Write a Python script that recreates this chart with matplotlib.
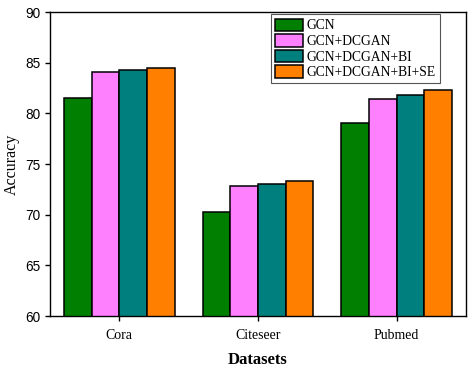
import matplotlib
matplotlib.use("Agg")
import matplotlib.pyplot as plt
import numpy as np

datasets = ["Cora", "Citeseer", "Pubmed"]
methods = ["GCN", "GCN+DCGAN", "GCN+DCGAN+BI", "GCN+DCGAN+BI+SE"]
gcn = [81.5, 70.3, 79.0]
gcn_dcgan = [84.1, 72.8, 81.4]
gcn_dcgan_bi = [84.3, 73.0, 81.8]
gcn_dcgan_bi_se = [84.5, 73.3, 82.3]
colors = ["#007F00", "#FF80FF", "#007F7F", "#FF8000"]
yticks = [60, 65, 70, 75, 80, 85, 90]

series = [gcn, gcn_dcgan, gcn_dcgan_bi, gcn_dcgan_bi_se]

fig = plt.figure(figsize=(4.74, 3.70), dpi=100)
ax = fig.add_axes([50/474, 1-316/370, (466-50)/474, (316-12)/370])

x = np.arange(len(datasets))
w = 0.2
for i, (vals, c, lab) in enumerate(zip(series, colors, methods)):
    ax.bar(x + (i - 1.5) * w, vals, width=w, color=c, edgecolor="black",
           linewidth=1.1, label=lab)

ax.set_xlim(-0.5, 2.5)
ax.set_ylim(60, 90)
ax.set_yticks(yticks)
ax.set_xticks(x)
ax.set_xticklabels(datasets, fontfamily="Liberation Serif", fontsize=10)
for t in ax.get_yticklabels():
    t.set_fontfamily("Liberation Sans")
    t.set_fontsize(9.8)
ax.tick_params(axis="both", direction="out", length=3.5, width=1)
ax.tick_params(axis="x", pad=6)
for s in ax.spines.values():
    s.set_linewidth(1.0)

ax.set_ylabel("Accuracy", fontfamily="Liberation Serif", fontsize=11.5, labelpad=4)
ax.set_xlabel("Datasets", fontfamily="Liberation Serif", fontsize=12,
              fontweight="bold", labelpad=7)

leg = ax.legend(loc="upper right", bbox_to_anchor=(0.9375, 0.992),
                prop={"family": "Liberation Serif", "size": 9.8},
                fancybox=False, edgecolor="#555555", framealpha=1,
                handlelength=2.0, handleheight=1.05, handletextpad=0.3,
                labelspacing=0.12, borderpad=0.3, borderaxespad=0.0)
leg.get_frame().set_linewidth(0.8)

fig.savefig("out.png", dpi=100)
